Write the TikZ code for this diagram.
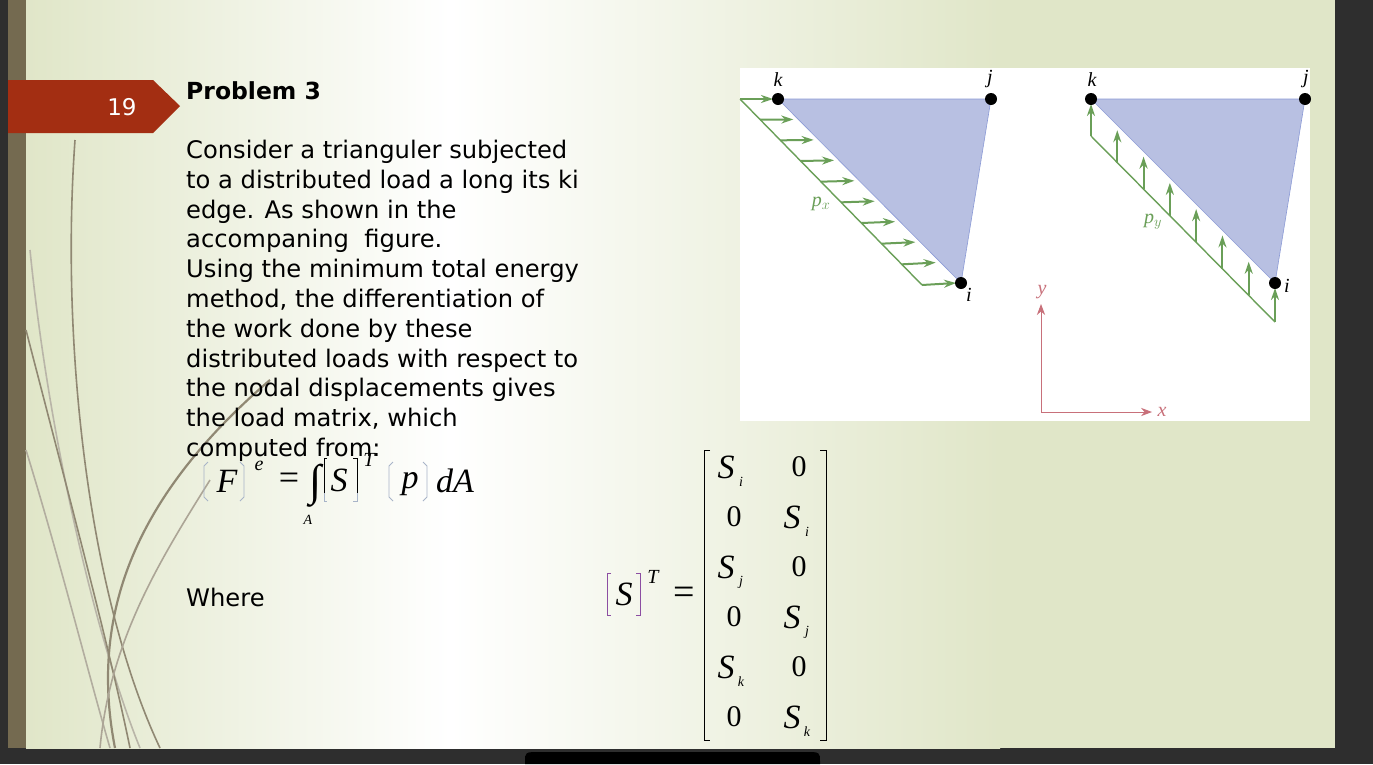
\documentclass[tikz,border=0pt]{standalone}
\usepackage{fontspec}
\setmainfont{DejaVu Sans}
\newfontfamily\tms{Liberation Serif}
\usetikzlibrary{arrows.meta,shadings,calc}
\definecolor{bgg}{HTML}{E0E6C8}
\definecolor{olv}{HTML}{746A50}
\definecolor{tagred}{HTML}{A32E12}
\definecolor{tri}{HTML}{B8C0E2}
\definecolor{trie}{HTML}{8C9BD6}
\definecolor{grn}{HTML}{6A9F58}
\definecolor{axr}{HTML}{C8707A}
\definecolor{brk}{HTML}{A8B4C8}
\tikzset{
 body/.style={anchor=north west,align=left,font=\fontsize{24.2}{29.8}\selectfont,text=black,inner sep=0},
 lbl/.style={font=\tms\itshape\fontsize{20}{20}\selectfont,inner sep=0},
 sub/.style={font=\tms\itshape\fontsize{14}{14}\selectfont,inner sep=0},
 ld/.style={grn,line width=1.4pt},
 la/.style={grn,line width=2pt,-{Stealth[length=12pt,width=8pt]}},
 nd/.style={circle,fill=black,inner sep=0,minimum size=12pt},
 me/.style={font=\tms\itshape\fontsize{34}{34}\selectfont,inner sep=0},
 zero/.style={font=\tms\fontsize{30}{30}\selectfont,inner sep=0},
 curv/.style={olv!80,line width=1.6pt}
}
\begin{document}
\begin{tikzpicture}[x=1pt,y=-1pt]
\useasboundingbox (0,0) rectangle (1373,764);
\fill[black!82] (0,0) rectangle (1373,764);
\fill[bgg] (8,0) rectangle (1335,748);
\shade[left color=bgg,right color=white] (26,0) rectangle (450,748);
\shade[left color=white,right color=bgg] (450,0) rectangle (1000,748);
\fill[olv] (8,0) rectangle (26,748);
% decorative curves
\draw[curv] (75,140) .. controls (60,350) and (90,600) .. (160,748);
\draw[curv,olv!50] (30,250) .. controls (50,450) and (100,650) .. (140,748);
\draw[curv] (26,330) .. controls (70,500) and (110,650) .. (130,748);
\draw[curv,line width=2.2pt] (115,748) .. controls (90,620) and (130,500) .. (270,380);
\draw[curv,olv!55] (26,450) .. controls (60,560) and (90,680) .. (110,748);
\draw[curv,olv!60] (100,748) .. controls (110,640) and (160,560) .. (210,480);
% tag
\fill[tagred] (8,80) -- (153,80) -- (180,106) -- (153,133) -- (8,133) -- cycle;
\node[text=white,font=\fontsize{23}{23}\selectfont] (num) at (122,107) {19};
\node[body,font=\bfseries\fontsize{23.5}{23.5}\selectfont] (title) at (186,81) {Problem 3};
\node[body] (txt) at (186,140) { Consider a trianguler subjected\\to a distributed load a long its ki\\edge. As shown in the\\accompaning\ \ figure.\\Using the minimum total energy\\method, the differentiation of\\the work done by these\\distributed loads with respect to\\the nodal displacements gives\\the load matrix, which\\computed from:};
\node[body] (where) at (186,588) {Where};
% equation F
\node[me] (F) at (227,481) {F};
\draw[brk,line width=0.8pt] (208,462) -- (204,466) -- (204,497) -- (208,501);
\draw[brk,line width=0.8pt] (240,462) -- (244,466) -- (244,497) -- (240,501);
\node[lbl] (e) at (259,466) {e};
\node[zero,font=\tms\fontsize{36}{36}\selectfont] (eq) at (289,481) {=};
\node[font=\tms\fontsize{44}{44}\selectfont,inner sep=0] (int) at (316,486) {∫};
\node[sub] (A) at (308,520) {A};
\node[me] (S1) at (339,480) {S};
\draw[line width=0.9pt] (327,458) -- (324,458) -- (324,493);
\draw[brk,line width=0.8pt] (324,493) -- (324,501) -- (327,501);
\draw[line width=0.9pt] (353,458) -- (357,458) -- (357,493);
\draw[brk,line width=0.8pt] (357,493) -- (357,501) -- (353,501);
\node[lbl] (T1) at (369,460) {T};
\draw[brk,line width=0.8pt] (393,462) -- (389,466) -- (389,497) -- (393,501);
\node[me] (p) at (410,484) {p};
\draw[brk,line width=0.8pt] (423,462) -- (427,466) -- (427,497) -- (423,501);
\node[me] (dA) at (455,481) {dA};
% [S]^T matrix
\node[me] (S2) at (624,594) {S};
\draw[axr!70!blue,line width=0.9pt] (611,573) -- (607,573) -- (607,615) -- (611,615);
\draw[axr!70!blue,line width=0.9pt] (636,573) -- (640,573) -- (640,615) -- (636,615);
\node[lbl] (T2) at (653,577) {T};
\node[zero,font=\tms\fontsize{38}{38}\selectfont] (eq2) at (684,596) {=};
\draw[line width=1pt] (710,450) -- (704,450) -- (704,740) -- (710,740);
\draw[line width=1pt] (820,450) -- (826,450) -- (826,740) -- (820,740);
\foreach \r/\y in {i/467,j/567,k/667}{
  \node[me] at (726,\y) {S};
  \node[sub] at (741,\y+15) {\r};
  \node[zero] at (799,\y) {0};
  \node[zero] at (734,\y+50) {0};
  \node[me] at (792,\y+50) {S};
  \node[sub] at (807,\y+65) {\r};
}
% figure
\fill[white] (740,68) rectangle (1310,421);
\coordinate (k1) at (778,99); \coordinate (j1) at (991,99); \coordinate (i1) at (961,283);
\fill[tri] (k1) -- (j1) -- (i1) -- cycle;
\draw[trie,line width=0.6pt] (k1) -- (j1) -- (i1) -- cycle;
\coordinate (o1) at (740,99); \coordinate (o2) at (922,285);
\draw[ld] (o1) -- (o2);
\foreach \n in {0,...,9}{
  \pgfmathsetmacro\t{\n/9}
  \draw[la] ($(o1)!\t!(o2)$) -- ($(k1)!\t!(i1)+(-5,0)$);
}
\node[nd] (K1) at (k1) {}; \node[nd] (J1) at (j1) {}; \node[nd] (I1) at (i1) {};
\node[lbl] at (778,80) {k}; \node[lbl] at (990,79) {j}; \node[lbl] at (969,295) {i};
\node[lbl,text=grn] at (821,204) {p$_x$};
\coordinate (k2) at (1091,99); \coordinate (j2) at (1305,99); \coordinate (i2) at (1275,283);
\fill[tri] (k2) -- (j2) -- (i2) -- cycle;
\draw[trie,line width=0.6pt] (k2) -- (j2) -- (i2) -- cycle;
\coordinate (q1) at (1091,136); \coordinate (q2) at (1275,322);
\draw[ld] (q1) -- (q2);
\foreach \n in {0,...,7}{
  \pgfmathsetmacro\t{\n/7}
  \draw[la] ($(q1)!\t!(q2)$) -- ($(k2)!\t!(i2)+(0,5)$);
}
\node[nd] at (k2) {}; \node[nd] at (j2) {}; \node[nd] at (i2) {};
\node[lbl] at (1092,80) {k}; \node[lbl] at (1306,79) {j}; \node[lbl] at (1287,286) {i};
\node[lbl,text=grn] at (1153,222) {p$_y$};
\coordinate (ax) at (1041,412);
\draw[axr,line width=0.9pt,-{Stealth[length=11pt]}] (ax) -- (1041,304);
\draw[axr,line width=0.9pt,-{Stealth[length=11pt]}] (ax) -- (1152,412);
\node[lbl,text=axr] at (1042,292) {y};
\node[lbl,text=axr] at (1162,412) {x};
% bottom bar
\fill[black] (525,764) -- (525,762) .. controls (525,752) .. (540,752) -- (805,752) .. controls (820,752) .. (820,762) -- (820,764) -- cycle;
\end{tikzpicture}
\end{document}
